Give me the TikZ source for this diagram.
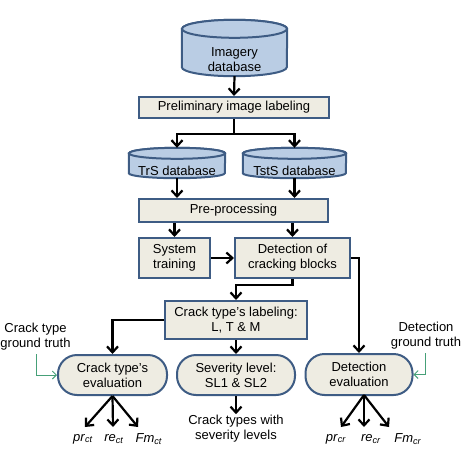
\documentclass[tikz,border=0pt]{standalone}
\usepackage{fontspec}
\setmainfont{Liberation Sans}
\usetikzlibrary{arrows.meta,backgrounds}
\definecolor{boxfill}{RGB}{238,236,226}
\definecolor{boxdraw}{RGB}{62,92,132}
\definecolor{cylfill}{RGB}{186,205,228}
\definecolor{gtgreen}{RGB}{70,160,120}
\begin{document}
\begin{tikzpicture}[x=1pt,y=-1pt,
  every node/.style={font=\fontsize{13}{15}\selectfont},
  box/.style={draw=boxdraw, fill=boxfill, line width=2pt, inner sep=0pt, align=center},
  pill/.style={box, rounded corners=19pt},
  arr/.style={line width=2.2pt, -{Straight Barb[length=6pt,width=11pt]}},
  ln/.style={line width=2.2pt},
  garr/.style={draw=gtgreen, line width=0.9pt, -{Straight Barb[length=4pt,width=8pt]}},
  cylbody/.style={draw=boxdraw, fill=cylfill, line width=2pt},
  holder/.style={inner sep=0pt},
  plain/.style={align=center, inner sep=1pt}]
\useasboundingbox (0,0) rectangle (474,450);

% cylinders (placeholders + text)
\node[holder, minimum width=105pt, minimum height=56pt] (img) at (234.5,48) {};
\node[plain] (imgtxt) at (234.5,60) {Imagery\\database};
\node[holder, minimum width=96pt, minimum height=30pt] (trs) at (177,163) {};
\node[plain] (trstxt) at (177,170.5) {TrS database};
\node[holder, minimum width=103pt, minimum height=30pt] (tsts) at (294.5,163) {};
\node[plain] (tststxt) at (294.5,170.5) {TstS database};

\begin{scope}[on background layer]
  \draw[cylbody] ([yshift=-9pt]img.north west) -- ([yshift=9pt]img.south west)
    arc[start angle=180, end angle=360, x radius=52.5pt, y radius=9pt]
    -- ([yshift=-9pt]img.north east)
    arc[start angle=0, end angle=180, x radius=52.5pt, y radius=9pt] -- cycle;
  \draw[cylbody] ([yshift=-9pt]img.north) ellipse [x radius=52.5pt, y radius=9pt];
  \draw[cylbody] ([yshift=-5.5pt]trs.north west) -- ([yshift=5pt]trs.south west)
    arc[start angle=180, end angle=360, x radius=48pt, y radius=5pt]
    -- ([yshift=-5.5pt]trs.north east)
    arc[start angle=0, end angle=180, x radius=48pt, y radius=5.5pt] -- cycle;
  \draw[cylbody] ([yshift=-5.5pt]trs.north) ellipse [x radius=48pt, y radius=5.5pt];
  \draw[cylbody] ([yshift=-5.5pt]tsts.north west) -- ([yshift=5pt]tsts.south west)
    arc[start angle=180, end angle=360, x radius=51.5pt, y radius=5pt]
    -- ([yshift=-5.5pt]tsts.north east)
    arc[start angle=0, end angle=180, x radius=51.5pt, y radius=5.5pt] -- cycle;
  \draw[cylbody] ([yshift=-5.5pt]tsts.north) ellipse [x radius=51.5pt, y radius=5.5pt];
\end{scope}

% boxes
\node[box, minimum width=190pt, minimum height=21pt] (prelim) at (234,107.5) {Preliminary image labeling};
\node[box, minimum width=189pt, minimum height=23pt] (pre) at (233.5,210.5) {Pre-processing};
\node[box, minimum width=71pt, minimum height=40pt] (sys) at (174.5,258) {System\\training};
\node[box, minimum width=115pt, minimum height=40pt] (det) at (292.5,258) {Detection of\\cracking blocks};
\node[box, minimum width=142pt, minimum height=38pt] (lab) at (236,320) {Crack type’s labeling:\\L, T \& M};
\node[pill, minimum width=109pt, minimum height=40pt] (cteval) at (112.5,375) {Crack type’s\\evaluation};
\node[pill, minimum width=118pt, minimum height=40pt] (sev) at (236,375) {Severity level:\\SL1 \& SL2};
\node[pill, minimum width=107pt, minimum height=41pt] (deteval) at (359,374.5) {Detection\\evaluation};

% free texts
\node[plain] (sevtxt) at (236,429) {Crack types with\\severity levels};
\node[plain] (ctgt) at (35.5,337) {Crack type\\ground truth};
\node[plain] (dgt) at (426,335.5) {Detection\\ground truth};
\node[plain] (prct) at (83,439) {\textit{pr}\textsubscript{\textit{ct}}};
\node[plain] (rect) at (114,439) {\textit{re}\textsubscript{\textit{ct}}};
\node[plain] (fmct) at (149,439) {\textit{Fm}\textsubscript{\textit{ct}}};
\node[plain] (prcr) at (336,439) {\textit{pr}\textsubscript{\textit{cr}}};
\node[plain] (recr) at (371,439) {\textit{re}\textsubscript{\textit{cr}}};
\node[plain] (fmcr) at (408,439) {\textit{Fm}\textsubscript{\textit{cr}}};

% connectors
\coordinate (split) at (234,134);
\draw[arr] (img.south) -- (prelim.north);
\draw[ln] (prelim.south) -- (split);
\draw[arr] (split) -| (trs.north);
\draw[arr] (split) -| (tsts.north);
\draw[arr] (trs.south) -- (trs.south |- pre.north);
\draw[arr] (tsts.south) -- (tsts.south |- pre.north);
\draw[arr] (sys.north |- pre.south) -- (sys.north);
\draw[arr] (det.north |- pre.south) -- (det.north);
\draw[arr] (sys.east) -- (det.west);
\draw[arr] (det.south) -- ++(0,6) -| (lab.north);
\draw[arr] (det.east) -| (deteval.north);
\draw[arr] (lab.west) -| (cteval.north);
\draw[arr] (lab.south) -- (sev.north);
\draw[arr] (sev.south) -- (sevtxt.north);

\coordinate (ct1) at (85,427);
\coordinate (ct2) at (113,427);
\coordinate (ct3) at (138,427);
\draw[arr] (cteval.south) -- (ct1);
\draw[arr] (cteval.south) -- (ct2);
\draw[arr] (cteval.south) -- (ct3);
\coordinate (cr0) at (364,395);
\coordinate (cr1) at (341,427);
\coordinate (cr2) at (364,427);
\coordinate (cr3) at (389,427);
\draw[arr] (cr0) -- (cr1);
\draw[arr] (cr0) -- (cr2);
\draw[arr] (cr0) -- (cr3);

\coordinate (gt1) at (36,354);
\coordinate (gt2) at (425,353);
\draw[garr] (gt1) |- (cteval.west);
\draw[garr] (gt2) |- (deteval.east);
\end{tikzpicture}
\end{document}
